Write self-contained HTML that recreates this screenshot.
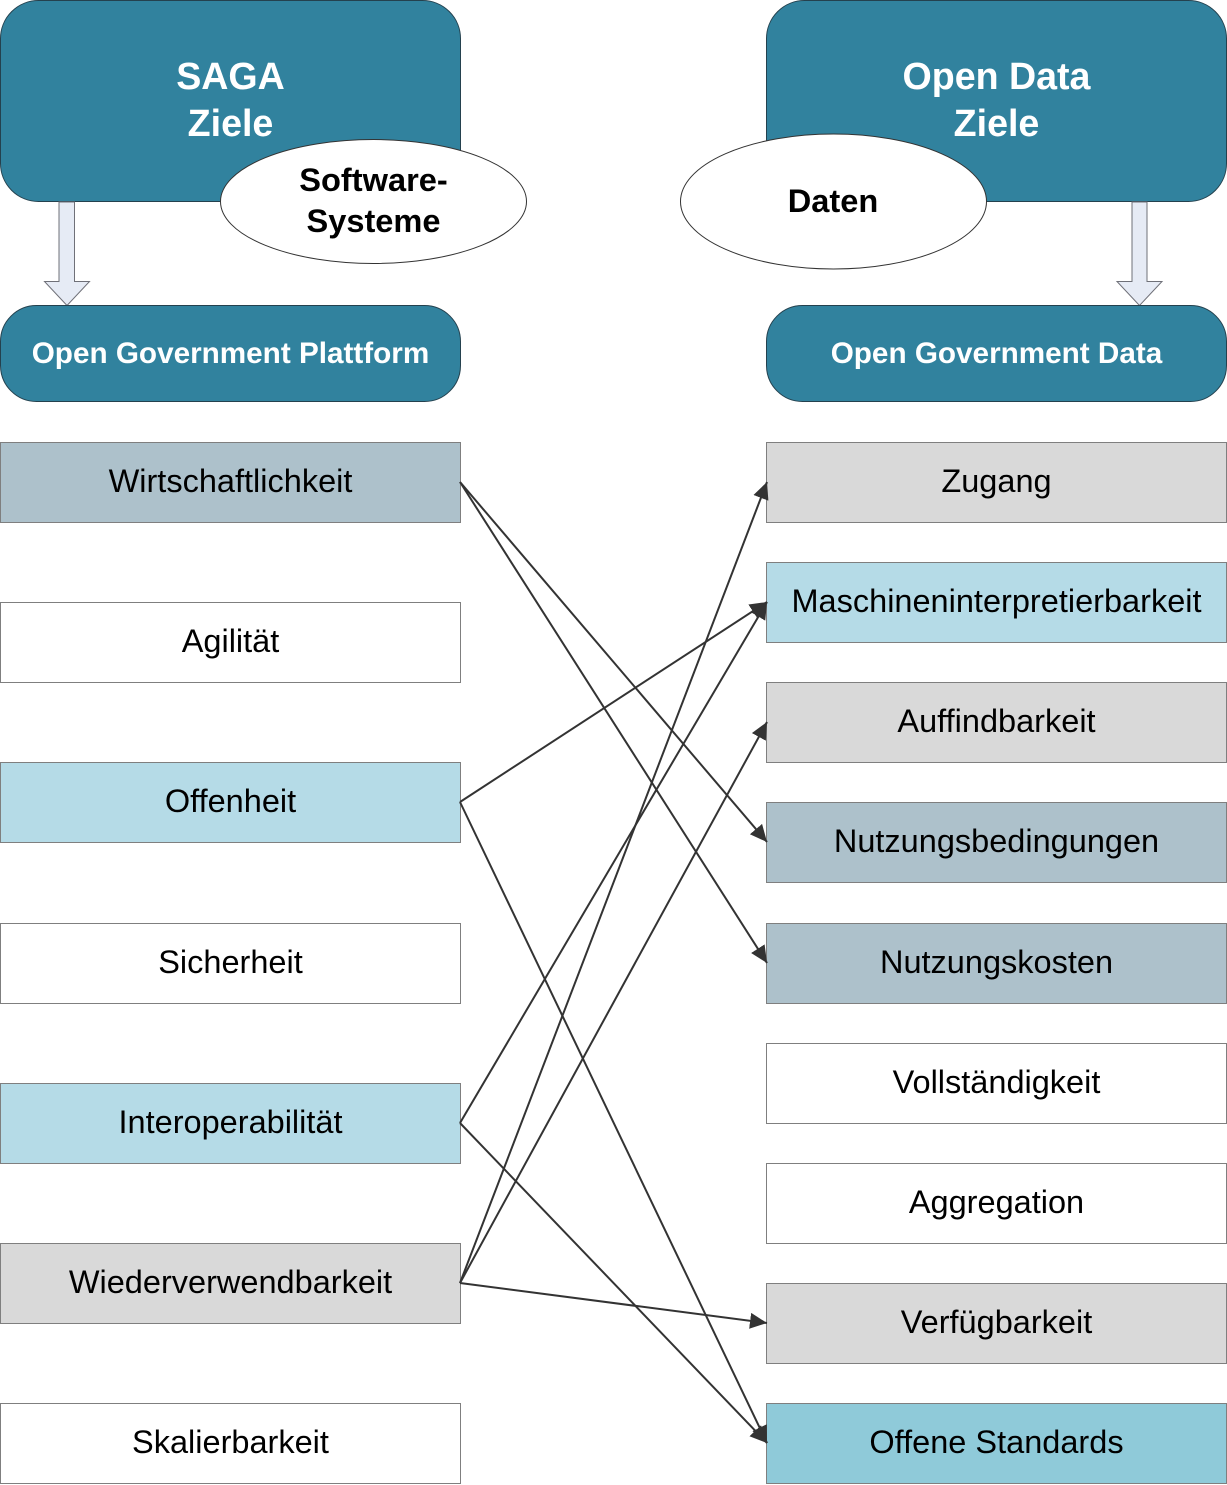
<!DOCTYPE html>
<html>
<head>
<meta charset="utf-8">
<style>
html,body{margin:0;padding:0;background:#fff;width:1227px;height:1485px;overflow:hidden}
svg{display:block}
text{font-family:"Liberation Sans",sans-serif;text-anchor:middle}
.b{fill:#000;font-size:32.5px}
.h{fill:#fff;font-weight:bold;font-size:37.6px}
.s{fill:#fff;font-weight:bold;font-size:29.7px}
.e{fill:#000;font-weight:bold;font-size:32.6px}
rect.n{stroke:#7f7f7f;stroke-width:1}
</style>
</head>
<body>
<svg width="1227" height="1485" viewBox="0 0 1227 1485" xmlns="http://www.w3.org/2000/svg">
<defs>
<marker id="a" markerUnits="userSpaceOnUse" markerWidth="20" markerHeight="20" refX="17" refY="8" orient="auto">
<path d="M0 0L17 8L0 16Z" fill="#333"/>
</marker>
</defs>

<rect x="0.5" y="0.5" width="460" height="201" rx="38" fill="#31829e" stroke="#24414e"/>
<rect x="766.5" y="0.5" width="460" height="201" rx="38" fill="#31829e" stroke="#24414e"/>
<text class="h" x="230.500" y="89">SAGA</text>
<text class="h" x="230.500" y="136">Ziele</text>
<text class="h" x="996.500" y="89">Open Data</text>
<text class="h" x="996.500" y="136">Ziele</text>

<ellipse cx="373.500" cy="201.500" rx="153" ry="62" fill="#fff" stroke="#333"/>
<ellipse cx="833.500" cy="201.500" rx="153" ry="67.500" fill="#fff" stroke="#333"/>
<text class="e" x="373.500" y="191">Software-</text>
<text class="e" x="373.500" y="232">Systeme</text>
<text class="e" x="833" y="212">Daten</text>

<path d="M59 202V281.500H44.500L67 305.500L89.500 281.500H74.500V202Z" fill="#e6ebf5" stroke="#6f7078"/>
<path d="M1132 202V281.500H1117L1139.500 305.500L1162 281.500H1147V202Z" fill="#e6ebf5" stroke="#6f7078"/>

<rect x="0.5" y="305.500" width="460" height="96" rx="36" fill="#31829e" stroke="#24414e"/>
<rect x="766.5" y="305.500" width="460" height="96" rx="36" fill="#31829e" stroke="#24414e"/>
<text class="s" x="230.500" y="363">Open Government Plattform</text>
<text class="s" x="996.500" y="363">Open Government Data</text>

<rect class="n" x="0.5" y="442.500" width="460" height="80" fill="#adc1cb"/>
<rect class="n" x="0.5" y="602.500" width="460" height="80" fill="#fff"/>
<rect class="n" x="0.5" y="762.500" width="460" height="80" fill="#b5dbe7"/>
<rect class="n" x="0.5" y="923.500" width="460" height="80" fill="#fff"/>
<rect class="n" x="0.5" y="1083.500" width="460" height="80" fill="#b5dbe7"/>
<rect class="n" x="0.5" y="1243.500" width="460" height="80" fill="#d9d9d9"/>
<rect class="n" x="0.5" y="1403.500" width="460" height="80" fill="#fff"/>

<rect class="n" x="766.5" y="442.500" width="460" height="80" fill="#d9d9d9"/>
<rect class="n" x="766.5" y="562.500" width="460" height="80" fill="#b5dbe7"/>
<rect class="n" x="766.5" y="682.500" width="460" height="80" fill="#d9d9d9"/>
<rect class="n" x="766.5" y="802.500" width="460" height="80" fill="#adc1cb"/>
<rect class="n" x="766.5" y="923.500" width="460" height="80" fill="#adc1cb"/>
<rect class="n" x="766.5" y="1043.500" width="460" height="80" fill="#fff"/>
<rect class="n" x="766.5" y="1163.500" width="460" height="80" fill="#fff"/>
<rect class="n" x="766.5" y="1283.500" width="460" height="80" fill="#d9d9d9"/>
<rect class="n" x="766.5" y="1403.500" width="460" height="80" fill="#8fcad9"/>

<text class="b" x="230.500" y="492">Wirtschaftlichkeit</text>
<text class="b" x="230.500" y="652">Agilität</text>
<text class="b" x="230.500" y="812">Offenheit</text>
<text class="b" x="230.500" y="973">Sicherheit</text>
<text class="b" x="230.500" y="1133">Interoperabilität</text>
<text class="b" x="230.500" y="1293">Wiederverwendbarkeit</text>
<text class="b" x="230.500" y="1453">Skalierbarkeit</text>

<text class="b" x="996.500" y="492">Zugang</text>
<text class="b" x="996.500" y="612">Maschineninterpretierbarkeit</text>
<text class="b" x="996.500" y="732">Auffindbarkeit</text>
<text class="b" x="996.500" y="852">Nutzungsbedingungen</text>
<text class="b" x="996.500" y="973">Nutzungskosten</text>
<text class="b" x="996.500" y="1093">Vollständigkeit</text>
<text class="b" x="996.500" y="1213">Aggregation</text>
<text class="b" x="996.500" y="1333">Verfügbarkeit</text>
<text class="b" x="996.500" y="1453">Offene Standards</text>

<g stroke="#333" stroke-width="2" fill="none">
<line x1="460" y1="482" x2="767" y2="842" marker-end="url(#a)"/>
<line x1="460" y1="482" x2="767" y2="963" marker-end="url(#a)"/>
<line x1="460" y1="802" x2="767" y2="602" marker-end="url(#a)"/>
<line x1="460" y1="802" x2="767" y2="1443" marker-end="url(#a)"/>
<line x1="460" y1="1123" x2="767" y2="602" marker-end="url(#a)"/>
<line x1="460" y1="1123" x2="767" y2="1443" marker-end="url(#a)"/>
<line x1="460" y1="1283" x2="767" y2="482" marker-end="url(#a)"/>
<line x1="460" y1="1283" x2="767" y2="722" marker-end="url(#a)"/>
<line x1="460" y1="1283" x2="767" y2="1323" marker-end="url(#a)"/>
</g>
</svg>
</body>
</html>
